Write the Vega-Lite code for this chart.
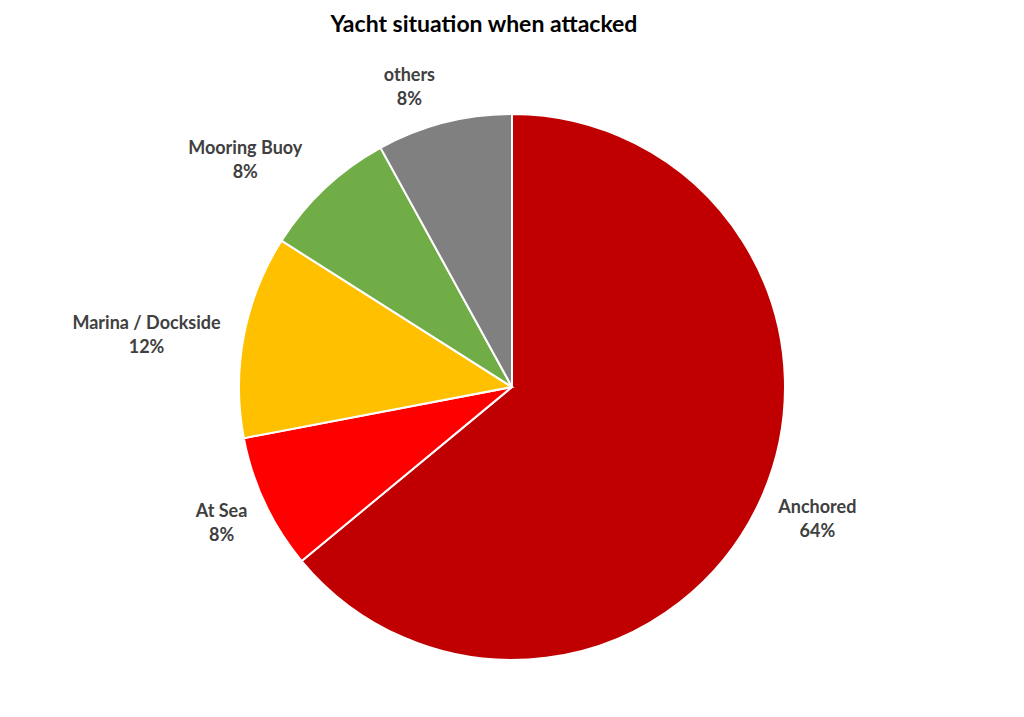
{
  "$schema": "https://vega.github.io/schema/vega-lite/v6.json",
  "width": 1024,
  "height": 662,
  "autosize": {"type": "pad"},
  "padding": {"top": 13, "left": 0, "right": 0, "bottom": 0},
  "background": "white",
  "title": {
    "text": "Yacht situation when attacked",
    "font": "Lato",
    "fontSize": 23,
    "fontWeight": "bold",
    "color": "#000000",
    "anchor": "middle",
    "frame": "group",
    "dx": -28,
    "offset": -9
  },
  "data": {
    "values": [
      {"situation": "Anchored", "share": 64, "o": 1},
      {"situation": "At Sea", "share": 8, "o": 2},
      {"situation": "Marina / Dockside", "share": 12, "o": 3},
      {"situation": "Mooring Buoy", "share": 8, "o": 4},
      {"situation": "others", "share": 8, "o": 5}
    ]
  },
  "transform": [
    {"calculate": "datum.situation + '\\n' + datum.share + '%'", "as": "label"}
  ],
  "encoding": {
    "theta": {"field": "share", "type": "quantitative", "stack": true},
    "order": {"field": "o", "type": "quantitative"}
  },
  "layer": [
    {
      "mark": {"type": "arc", "outerRadius": 273, "stroke": "white", "strokeWidth": 2},
      "encoding": {
        "color": {
          "field": "situation",
          "type": "nominal",
          "scale": {
            "domain": ["Anchored", "At Sea", "Marina / Dockside", "Mooring Buoy", "others"],
            "range": ["#C00000", "#FF0000", "#FFC000", "#70AD47", "#808080"]
          },
          "legend": null
        }
      }
    },
    {
      "mark": {"type": "text", "font": "Lato", "fontSize": 18, "fontWeight": "bold", "color": "#404040", "lineBreak": "\n", "lineHeight": 24, "radius": 333, "dx": 4, "dy": -21},
      "encoding": {
        "text": {"condition": {"test": "datum.situation == 'Anchored'", "field": "label"}, "value": ""}
      }
    },
    {
      "mark": {"type": "text", "font": "Lato", "fontSize": 18, "fontWeight": "bold", "color": "#404040", "lineBreak": "\n", "lineHeight": 24, "radius": 321, "dx": 0, "dy": -12},
      "encoding": {
        "text": {"condition": {"test": "datum.situation == 'At Sea'", "field": "label"}, "value": ""}
      }
    },
    {
      "mark": {"type": "text", "font": "Lato", "fontSize": 18, "fontWeight": "bold", "color": "#404040", "lineBreak": "\n", "lineHeight": 24, "radius": 368, "dx": -4, "dy": 6},
      "encoding": {
        "text": {"condition": {"test": "datum.situation == 'Marina / Dockside'", "field": "label"}, "value": ""}
      }
    },
    {
      "mark": {"type": "text", "font": "Lato", "fontSize": 18, "fontWeight": "bold", "color": "#404040", "lineBreak": "\n", "lineHeight": 24, "radius": 340, "dx": -34, "dy": 10},
      "encoding": {
        "text": {"condition": {"test": "datum.situation == 'Mooring Buoy'", "field": "label"}, "value": ""}
      }
    },
    {
      "mark": {"type": "text", "font": "Lato", "fontSize": 18, "fontWeight": "bold", "color": "#404040", "lineBreak": "\n", "lineHeight": 24, "radius": 316, "dx": -24, "dy": -5},
      "encoding": {
        "text": {"condition": {"test": "datum.situation == 'others'", "field": "label"}, "value": ""}
      }
    }
  ],
  "config": {"view": {"stroke": null}}
}
